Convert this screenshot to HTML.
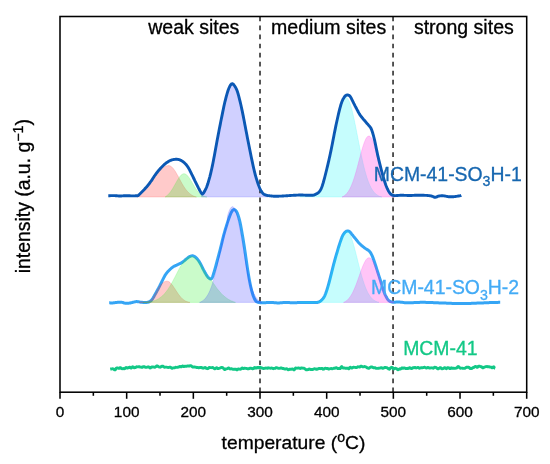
<!DOCTYPE html>
<html><head><meta charset="utf-8"><title>TPD profiles</title>
<style>html,body{margin:0;padding:0;background:#fff;}body{width:550px;height:464px;overflow:hidden}</style>
</head><body>
<svg width="550" height="464" viewBox="0 0 550 464" style="display:block">
<rect x="0" y="0" width="550" height="464" fill="#ffffff"/>
<g>
<path d="M137.0,197.0 L137.5,196.9 L138.0,196.8 L138.5,196.4 L139.0,196.0 L139.5,195.5 L140.0,195.0 L140.5,194.5 L141.0,194.0 L141.5,193.5 L142.0,193.0 L142.5,192.5 L143.0,192.0 L143.5,191.5 L144.0,191.0 L144.5,190.5 L145.0,189.9 L145.5,189.4 L146.0,188.8 L146.5,188.2 L147.0,187.7 L147.5,187.1 L148.0,186.5 L148.5,185.8 L149.0,185.2 L149.5,184.5 L150.0,183.9 L150.5,183.2 L151.0,182.5 L151.5,181.8 L152.0,181.1 L152.5,180.3 L153.0,179.5 L153.5,178.7 L154.0,178.0 L154.5,177.3 L155.0,176.6 L155.5,176.0 L156.0,175.4 L156.5,174.7 L157.0,174.1 L157.5,173.5 L158.0,172.9 L158.5,172.3 L159.0,171.7 L159.5,171.2 L160.0,170.6 L160.5,170.1 L161.0,169.6 L161.5,169.1 L162.0,168.7 L162.5,168.3 L163.0,167.9 L163.5,167.5 L164.0,167.2 L164.5,166.8 L165.0,166.6 L165.5,166.3 L166.0,166.1 L166.5,165.9 L167.0,165.8 L167.5,165.7 L168.0,165.6 L168.5,165.6 L169.0,165.6 L169.5,165.7 L170.0,165.8 L170.5,166.1 L171.0,166.4 L171.5,166.7 L172.0,167.2 L172.5,167.7 L173.0,168.2 L173.5,168.8 L174.0,169.5 L174.5,170.2 L175.0,170.9 L175.5,171.7 L176.0,172.6 L176.5,173.4 L177.0,174.3 L177.5,175.2 L178.0,176.1 L178.5,177.0 L179.0,178.0 L179.5,178.9 L180.0,179.8 L180.5,180.8 L181.0,181.7 L181.5,182.6 L182.0,183.5 L182.5,184.3 L183.0,185.2 L183.5,186.0 L184.0,186.8 L184.5,187.6 L185.0,188.3 L185.5,189.0 L186.0,189.7 L186.5,190.3 L187.0,190.9 L187.5,191.5 L188.0,192.0 L188.5,192.5 L189.0,193.0 L189.5,193.4 L190.0,193.9 L190.5,194.2 L191.0,194.6 L191.5,194.9 L192.0,195.2 L192.5,195.5 L193.0,195.8 L193.5,196.0 L194.0,196.2 L194.5,196.4 L195.0,196.6 L195.5,196.8 L196.0,196.9 L196.5,197.0 L196.5,197.0 L137.0,197.0 Z" fill="rgba(255,35,35,0.245)" stroke="rgba(255,35,35,0.245)" stroke-width="0.7"/>
<path d="M165.0,197.0 L165.5,196.7 L166.0,196.3 L166.5,196.0 L167.0,195.6 L167.5,195.2 L168.0,194.7 L168.5,194.2 L169.0,193.6 L169.5,193.0 L170.0,192.4 L170.5,191.8 L171.0,191.1 L171.5,190.3 L172.0,189.6 L172.5,188.8 L173.0,187.9 L173.5,187.1 L174.0,186.2 L174.5,185.3 L175.0,184.5 L175.5,183.6 L176.0,182.7 L176.5,181.8 L177.0,180.9 L177.5,180.0 L178.0,179.2 L178.5,178.4 L179.0,177.7 L179.5,177.0 L180.0,176.3 L180.5,175.7 L181.0,175.2 L181.5,174.8 L182.0,174.4 L182.5,174.1 L183.0,173.9 L183.5,173.7 L184.0,173.7 L184.5,173.7 L185.0,173.9 L185.5,174.1 L186.0,174.4 L186.5,174.7 L187.0,175.2 L187.5,175.7 L188.0,176.3 L188.5,176.9 L189.0,177.6 L189.5,178.3 L190.0,179.1 L190.5,179.9 L191.0,180.7 L191.5,181.6 L192.0,182.4 L192.5,183.3 L193.0,184.1 L193.5,185.0 L194.0,185.8 L194.5,186.7 L195.0,187.5 L195.5,188.2 L196.0,189.0 L196.5,189.7 L197.0,190.4 L197.5,191.0 L198.0,191.6 L198.5,192.2 L199.0,192.7 L199.5,193.2 L200.0,193.7 L200.5,194.1 L201.0,194.5 L201.5,194.9 L202.0,195.2 L202.5,195.5 L203.0,195.7 L203.5,196.0 L204.0,196.2 L204.5,196.4 L205.0,196.5 L205.5,196.7 L206.0,196.8 L206.5,196.9 L207.0,197.0 L207.0,197.0 L165.0,197.0 Z" fill="rgba(30,240,30,0.235)" stroke="rgba(30,240,30,0.235)" stroke-width="0.7"/>
<path d="M201.5,197.0 L202.0,195.0 L202.5,195.1 L203.0,194.8 L203.5,194.2 L204.0,193.4 L204.5,192.5 L205.0,191.6 L205.5,190.6 L206.0,189.6 L206.5,188.5 L207.0,187.2 L207.5,185.8 L208.0,184.3 L208.5,182.6 L209.0,180.9 L209.5,179.1 L210.0,177.2 L210.5,175.2 L211.0,173.1 L211.5,171.0 L212.0,168.7 L212.5,166.4 L213.0,163.9 L213.5,161.4 L214.0,158.7 L214.5,156.0 L215.0,153.3 L215.5,150.6 L216.0,147.9 L216.5,145.1 L217.0,142.4 L217.5,139.7 L218.0,137.1 L218.5,134.5 L219.0,131.9 L219.5,129.3 L220.0,126.8 L220.5,124.3 L221.0,121.7 L221.5,119.2 L222.0,116.8 L222.5,114.3 L223.0,111.9 L223.5,109.5 L224.0,107.1 L224.5,104.9 L225.0,102.7 L225.5,100.7 L226.0,98.8 L226.5,96.9 L227.0,95.2 L227.5,93.5 L228.0,91.9 L228.5,90.5 L229.0,89.2 L229.5,88.1 L230.0,87.2 L230.5,86.3 L231.0,85.7 L231.5,85.2 L232.0,85.0 L232.5,85.0 L233.0,85.2 L233.5,85.7 L234.0,86.3 L234.5,86.9 L235.0,87.7 L235.5,88.5 L236.0,89.4 L236.5,90.4 L237.0,91.7 L237.5,93.1 L238.0,94.7 L238.5,96.5 L239.0,98.3 L239.5,100.3 L240.0,102.3 L240.5,104.4 L241.0,106.6 L241.5,108.9 L242.0,111.2 L242.5,113.6 L243.0,116.1 L243.5,118.6 L244.0,121.2 L244.5,123.8 L245.0,126.4 L245.5,129.0 L246.0,131.6 L246.5,134.2 L247.0,136.8 L247.5,139.4 L248.0,142.0 L248.5,144.5 L249.0,147.0 L249.5,149.5 L250.0,152.0 L250.5,154.5 L251.0,156.9 L251.5,159.3 L252.0,161.7 L252.5,164.1 L253.0,166.4 L253.5,168.7 L254.0,170.9 L254.5,172.9 L255.0,174.9 L255.5,176.7 L256.0,178.5 L256.5,180.2 L257.0,181.7 L257.5,183.3 L258.0,184.7 L258.5,186.1 L259.0,187.5 L259.5,188.8 L260.0,189.9 L260.5,191.0 L261.0,191.9 L261.5,192.7 L262.0,193.4 L262.5,194.0 L263.0,194.6 L263.5,195.1 L264.0,195.5 L264.5,195.8 L265.0,196.0 L265.5,196.2 L266.0,196.3 L266.5,196.5 L267.0,196.6 L267.5,196.7 L268.0,197.0 L268.0,197.0 L201.5,197.0 Z" fill="rgba(40,40,255,0.22)" stroke="rgba(40,40,255,0.22)" stroke-width="0.7"/>
<path d="M300.0,197.0 L300.5,196.2 L301.0,196.2 L301.5,196.2 L302.0,196.2 L302.5,196.2 L303.0,196.2 L303.5,196.3 L304.0,196.3 L304.5,196.3 L305.0,196.4 L305.5,196.4 L306.0,196.4 L306.5,196.4 L307.0,196.5 L307.5,196.5 L308.0,196.5 L308.5,196.5 L309.0,196.5 L309.5,196.5 L310.0,196.5 L310.5,196.5 L311.0,196.5 L311.5,196.5 L312.0,196.5 L312.5,196.4 L313.0,196.4 L313.5,196.3 L314.0,196.2 L314.5,196.0 L315.0,195.8 L315.5,195.5 L316.0,195.3 L316.5,195.0 L317.0,194.7 L317.5,194.4 L318.0,194.1 L318.5,193.7 L319.0,193.2 L319.5,192.6 L320.0,191.9 L320.5,191.1 L321.0,190.2 L321.5,189.0 L322.0,187.7 L322.5,186.3 L323.0,184.7 L323.5,183.0 L324.0,181.2 L324.5,179.3 L325.0,177.4 L325.5,175.4 L326.0,173.4 L326.5,171.4 L327.0,169.3 L327.5,167.3 L328.0,165.2 L328.5,163.0 L329.0,160.9 L329.5,158.6 L330.0,156.4 L330.5,154.0 L331.0,151.6 L331.5,149.2 L332.0,146.7 L332.5,144.1 L333.0,141.5 L333.5,138.9 L334.0,136.3 L334.5,133.8 L335.0,131.3 L335.5,128.8 L336.0,126.4 L336.5,124.0 L337.0,121.8 L337.5,119.5 L338.0,117.3 L338.5,115.2 L339.0,113.1 L339.5,111.1 L340.0,109.2 L340.5,107.3 L341.0,105.6 L341.5,104.1 L342.0,102.7 L342.5,101.6 L343.0,100.5 L343.5,99.6 L344.0,98.8 L344.5,98.0 L345.0,97.6 L345.5,97.5 L346.0,97.5 L346.5,97.6 L347.0,97.9 L347.5,98.4 L348.0,99.1 L348.5,99.9 L349.0,100.9 L349.5,102.1 L350.0,103.4 L350.5,104.9 L351.0,106.5 L351.5,108.2 L352.0,110.1 L352.5,112.1 L353.0,114.1 L353.5,116.3 L354.0,118.6 L354.5,120.9 L355.0,123.4 L355.5,125.8 L356.0,128.3 L356.5,130.9 L357.0,133.4 L357.5,136.0 L358.0,138.6 L358.5,141.2 L359.0,143.7 L359.5,146.3 L360.0,148.8 L360.5,151.3 L361.0,153.7 L361.5,156.1 L362.0,158.4 L362.5,160.6 L363.0,162.8 L363.5,165.0 L364.0,167.0 L364.5,169.0 L365.0,170.9 L365.5,172.7 L366.0,174.4 L366.5,176.1 L367.0,177.7 L367.5,179.2 L368.0,180.6 L368.5,181.9 L369.0,183.2 L369.5,184.4 L370.0,185.5 L370.5,186.6 L371.0,187.5 L371.5,188.4 L372.0,189.3 L372.5,190.1 L373.0,190.8 L373.5,191.5 L374.0,192.1 L374.5,192.7 L375.0,193.2 L375.5,193.7 L376.0,194.1 L376.5,194.5 L377.0,194.9 L377.5,195.2 L378.0,195.5 L378.5,195.8 L379.0,196.0 L379.5,196.3 L380.0,196.5 L380.5,196.6 L381.0,196.8 L381.5,196.9 L382.0,197.0 L382.0,197.0 L300.0,197.0 Z" fill="rgba(0,245,245,0.225)" stroke="rgba(0,245,245,0.225)" stroke-width="0.7"/>
<path d="M342.0,197.0 L342.5,196.8 L343.0,196.6 L343.5,196.3 L344.0,196.0 L344.5,195.6 L345.0,195.2 L345.5,194.8 L346.0,194.3 L346.5,193.8 L347.0,193.2 L347.5,192.5 L348.0,191.9 L348.5,191.1 L349.0,190.3 L349.5,189.4 L350.0,188.5 L350.5,187.5 L351.0,186.4 L351.5,185.2 L352.0,184.0 L352.5,182.7 L353.0,181.4 L353.5,179.9 L354.0,178.4 L354.5,176.9 L355.0,175.2 L355.5,173.6 L356.0,171.8 L356.5,170.0 L357.0,168.2 L357.5,166.3 L358.0,164.5 L358.5,162.5 L359.0,160.6 L359.5,158.7 L360.0,156.8 L360.5,154.9 L361.0,153.1 L361.5,151.3 L362.0,149.5 L362.5,147.8 L363.0,146.2 L363.5,144.7 L364.0,143.2 L364.5,141.9 L365.0,140.7 L365.5,139.6 L366.0,138.6 L366.5,137.8 L367.0,137.1 L367.5,136.6 L368.0,136.3 L368.5,136.1 L369.0,136.0 L369.5,136.1 L370.0,136.4 L370.5,136.9 L371.0,137.5 L371.5,138.3 L372.0,139.2 L372.5,140.3 L373.0,141.6 L373.5,142.9 L374.0,144.4 L374.5,146.0 L375.0,147.7 L375.5,149.4 L376.0,151.3 L376.5,153.1 L377.0,155.1 L377.5,157.0 L378.0,159.0 L378.5,161.0 L379.0,163.0 L379.5,165.0 L380.0,167.0 L380.5,168.9 L381.0,170.8 L381.5,172.6 L382.0,174.4 L382.5,176.1 L383.0,177.8 L383.5,179.4 L384.0,180.9 L384.5,182.3 L385.0,183.8 L385.5,185.3 L386.0,186.7 L386.5,188.0 L387.0,189.2 L387.5,190.3 L388.0,191.3 L388.5,192.2 L389.0,193.0 L389.5,193.8 L390.0,194.5 L390.5,195.1 L391.0,195.6 L391.5,195.9 L392.0,196.2 L392.5,196.4 L393.0,196.5 L393.5,196.6 L394.0,196.7 L394.5,196.9 L395.0,197.0 L395.0,197.0 L342.0,197.0 Z" fill="rgba(255,30,225,0.26)" stroke="rgba(255,30,225,0.26)" stroke-width="0.7"/>
</g>
<g stroke="#2e2e2e" stroke-width="1.6" stroke-dasharray="4.7 4.35" fill="none">
<line x1="260.01" y1="16.5" x2="260.01" y2="392.2"/>
<line x1="393.05" y1="16.5" x2="393.05" y2="392.2"/>
</g>
<g fill="none" stroke-linejoin="round" stroke-linecap="butt">
<path d="M110.2,369.1 L110.7,369.0 L111.2,369.0 L111.7,368.9 L112.2,368.8 L112.7,368.8 L113.2,368.9 L113.7,369.1 L114.2,369.6 L114.7,369.9 L115.2,369.8 L115.7,369.1 L116.2,368.3 L116.7,368.0 L117.2,368.0 L117.7,368.0 L118.2,368.1 L118.7,368.4 L119.2,368.4 L119.7,367.9 L120.2,367.6 L120.7,367.7 L121.2,368.2 L121.7,368.7 L122.2,368.8 L122.7,368.7 L123.2,368.5 L123.7,368.6 L124.2,368.8 L124.7,368.7 L125.2,368.3 L125.7,367.7 L126.2,367.5 L126.7,367.7 L127.2,368.0 L127.7,368.0 L128.2,367.7 L128.7,367.5 L129.2,367.4 L129.7,367.2 L130.2,367.4 L130.7,367.9 L131.2,368.1 L131.7,367.7 L132.2,367.1 L132.7,366.8 L133.2,366.9 L133.7,367.4 L134.2,367.7 L134.7,367.7 L135.2,367.6 L135.7,367.4 L136.2,367.1 L136.7,366.8 L137.2,366.8 L137.7,366.9 L138.2,366.8 L138.7,366.7 L139.2,366.7 L139.7,366.9 L140.2,367.1 L140.7,367.1 L141.2,367.1 L141.7,367.3 L142.2,367.4 L142.7,367.1 L143.2,366.7 L143.7,366.6 L144.2,366.7 L144.7,366.9 L145.2,367.2 L145.7,367.4 L146.2,367.4 L146.7,367.3 L147.2,367.2 L147.7,366.9 L148.2,366.8 L148.7,366.9 L149.2,367.3 L149.7,367.7 L150.2,368.0 L150.7,367.8 L151.2,367.3 L151.7,367.0 L152.2,367.0 L152.7,367.0 L153.2,367.0 L153.7,367.1 L154.2,367.2 L154.7,367.3 L155.2,367.1 L155.7,366.8 L156.2,366.4 L156.7,366.0 L157.2,365.9 L157.7,366.1 L158.2,366.5 L158.7,366.8 L159.2,367.0 L159.7,367.1 L160.2,367.2 L160.7,367.0 L161.2,366.6 L161.7,366.3 L162.2,366.1 L162.7,366.2 L163.2,366.4 L163.7,366.8 L164.2,367.2 L164.7,367.3 L165.2,367.2 L165.7,367.1 L166.2,367.1 L166.7,367.2 L167.2,367.3 L167.7,367.4 L168.2,367.5 L168.7,367.4 L169.2,367.3 L169.7,367.1 L170.2,367.1 L170.7,367.3 L171.2,367.8 L171.7,368.3 L172.2,368.3 L172.7,368.0 L173.2,367.8 L173.7,367.9 L174.2,367.9 L174.7,367.8 L175.2,367.5 L175.7,367.2 L176.2,367.3 L176.7,367.4 L177.2,367.3 L177.7,367.2 L178.2,367.2 L178.7,367.1 L179.2,366.7 L179.7,366.4 L180.2,366.5 L180.7,366.8 L181.2,366.9 L181.7,366.6 L182.2,366.1 L182.7,366.0 L183.2,366.4 L183.7,366.6 L184.2,366.5 L184.7,366.2 L185.2,366.2 L185.7,366.3 L186.2,366.4 L186.7,366.2 L187.2,366.0 L187.7,366.0 L188.2,365.9 L188.7,365.9 L189.2,366.1 L189.7,366.0 L190.2,365.8 L190.7,365.6 L191.2,365.8 L191.7,366.3 L192.2,366.8 L192.7,367.1 L193.2,367.1 L193.7,367.0 L194.2,367.0 L194.7,367.0 L195.2,367.1 L195.7,367.2 L196.2,367.4 L196.7,367.5 L197.2,367.4 L197.7,367.4 L198.2,367.7 L198.7,367.9 L199.2,367.7 L199.7,367.5 L200.2,367.5 L200.7,367.5 L201.2,367.4 L201.7,367.6 L202.2,367.9 L202.7,368.1 L203.2,368.2 L203.7,368.1 L204.2,367.8 L204.7,367.6 L205.2,367.5 L205.7,367.8 L206.2,368.3 L206.7,368.5 L207.2,368.7 L207.7,368.6 L208.2,368.4 L208.7,367.9 L209.2,367.5 L209.7,367.5 L210.2,367.6 L210.7,367.6 L211.2,367.6 L211.7,367.7 L212.2,367.6 L212.7,367.5 L213.2,367.8 L213.7,368.2 L214.2,368.5 L214.7,368.8 L215.2,368.8 L215.7,368.3 L216.2,367.8 L216.7,367.7 L217.2,368.1 L217.7,368.5 L218.2,368.6 L218.7,368.5 L219.2,368.3 L219.7,368.2 L220.2,368.0 L220.7,367.7 L221.2,367.4 L221.7,367.4 L222.2,367.5 L222.7,367.7 L223.2,368.0 L223.7,368.6 L224.2,369.2 L224.7,369.6 L225.2,369.4 L225.7,369.0 L226.2,368.9 L226.7,368.8 L227.2,368.7 L227.7,368.5 L228.2,368.1 L228.7,367.9 L229.2,368.3 L229.7,368.8 L230.2,369.0 L230.7,368.8 L231.2,368.7 L231.7,368.9 L232.2,369.0 L232.7,369.2 L233.2,369.4 L233.7,369.3 L234.2,369.2 L234.7,369.2 L235.2,369.2 L235.7,369.2 L236.2,369.4 L236.7,369.8 L237.2,369.8 L237.7,369.4 L238.2,369.0 L238.7,369.0 L239.2,369.1 L239.7,369.2 L240.2,369.3 L240.7,369.2 L241.2,368.8 L241.7,368.2 L242.2,367.9 L242.7,368.3 L243.2,368.6 L243.7,368.5 L244.2,368.2 L244.7,368.2 L245.2,368.4 L245.7,368.4 L246.2,368.4 L246.7,368.5 L247.2,368.7 L247.7,368.7 L248.2,368.7 L248.7,368.8 L249.2,368.7 L249.7,368.3 L250.2,368.1 L250.7,368.1 L251.2,368.3 L251.7,368.5 L252.2,368.6 L252.7,368.8 L253.2,368.7 L253.7,368.4 L254.2,367.8 L254.7,367.5 L255.2,367.7 L255.7,368.1 L256.2,368.1 L256.7,367.9 L257.2,367.6 L257.7,367.4 L258.2,367.6 L258.7,367.8 L259.2,367.7 L259.7,367.3 L260.2,367.2 L260.7,367.5 L261.2,367.9 L261.7,368.0 L262.2,368.0 L262.7,368.3 L263.2,368.5 L263.7,368.5 L264.2,368.4 L264.7,368.4 L265.2,368.2 L265.7,368.0 L266.2,368.0 L266.7,368.2 L267.2,368.3 L267.7,368.1 L268.2,367.8 L268.7,367.9 L269.2,368.1 L269.7,368.1 L270.2,368.2 L270.7,368.2 L271.2,368.1 L271.7,368.0 L272.2,368.2 L272.7,368.5 L273.2,368.7 L273.7,368.5 L274.2,368.4 L274.7,368.4 L275.2,368.3 L275.7,367.9 L276.2,367.7 L276.7,367.7 L277.2,367.8 L277.7,368.0 L278.2,368.3 L278.7,368.4 L279.2,368.4 L279.7,368.3 L280.2,368.1 L280.7,368.0 L281.2,367.9 L281.7,368.1 L282.2,368.4 L282.7,368.5 L283.2,368.4 L283.7,368.6 L284.2,368.8 L284.7,369.0 L285.2,369.1 L285.7,369.0 L286.2,368.8 L286.7,368.7 L287.2,369.0 L287.7,369.5 L288.2,369.8 L288.7,369.7 L289.2,369.4 L289.7,369.2 L290.2,369.2 L290.7,369.3 L291.2,369.3 L291.7,369.2 L292.2,368.9 L292.7,368.9 L293.2,369.3 L293.7,369.9 L294.2,369.9 L294.7,369.2 L295.2,368.4 L295.7,368.0 L296.2,368.1 L296.7,368.2 L297.2,368.2 L297.7,368.1 L298.2,368.0 L298.7,368.0 L299.2,368.1 L299.7,368.3 L300.2,368.5 L300.7,368.4 L301.2,368.0 L301.7,367.9 L302.2,368.1 L302.7,368.2 L303.2,368.1 L303.7,368.2 L304.2,368.4 L304.7,368.7 L305.2,369.1 L305.7,369.4 L306.2,369.8 L306.7,369.8 L307.2,369.8 L307.7,369.7 L308.2,369.6 L308.7,369.2 L309.2,369.0 L309.7,369.1 L310.2,369.4 L310.7,369.5 L311.2,369.5 L311.7,369.4 L312.2,369.5 L312.7,369.5 L313.2,369.3 L313.7,369.0 L314.2,368.8 L314.7,368.8 L315.2,368.9 L315.7,369.0 L316.2,369.3 L316.7,369.4 L317.2,369.1 L317.7,368.9 L318.2,368.8 L318.7,368.6 L319.2,368.4 L319.7,368.4 L320.2,368.6 L320.7,368.7 L321.2,368.6 L321.7,368.4 L322.2,368.5 L322.7,368.9 L323.2,369.2 L323.7,369.1 L324.2,368.9 L324.7,368.6 L325.2,368.3 L325.7,368.3 L326.2,368.4 L326.7,368.5 L327.2,368.4 L327.7,368.5 L328.2,368.9 L328.7,369.1 L329.2,368.9 L329.7,368.8 L330.2,368.7 L330.7,368.6 L331.2,368.5 L331.7,368.6 L332.2,368.8 L332.7,368.7 L333.2,368.5 L333.7,368.3 L334.2,368.3 L334.7,368.3 L335.2,368.1 L335.7,367.8 L336.2,367.7 L336.7,367.9 L337.2,368.3 L337.7,368.6 L338.2,368.6 L338.7,368.4 L339.2,368.3 L339.7,368.4 L340.2,368.6 L340.7,368.0 L341.2,367.0 L341.7,366.6 L342.2,367.1 L342.7,367.8 L343.2,368.1 L343.7,368.1 L344.2,368.0 L344.7,368.0 L345.2,368.2 L345.7,368.4 L346.2,368.4 L346.7,368.2 L347.2,368.1 L347.7,368.1 L348.2,368.4 L348.7,368.8 L349.2,368.6 L349.7,367.8 L350.2,367.2 L350.7,367.3 L351.2,367.8 L351.7,368.1 L352.2,367.9 L352.7,367.4 L353.2,367.3 L353.7,367.3 L354.2,367.3 L354.7,367.4 L355.2,367.4 L355.7,367.5 L356.2,367.6 L356.7,367.5 L357.2,367.2 L357.7,366.8 L358.2,366.8 L358.7,366.9 L359.2,367.0 L359.7,367.0 L360.2,366.6 L360.7,366.2 L361.2,366.2 L361.7,366.4 L362.2,366.6 L362.7,366.8 L363.2,366.9 L363.7,366.8 L364.2,366.6 L364.7,366.5 L365.2,366.7 L365.7,366.8 L366.2,367.0 L366.7,367.5 L367.2,367.9 L367.7,368.0 L368.2,368.2 L368.7,368.4 L369.2,368.1 L369.7,367.5 L370.2,367.3 L370.7,367.1 L371.2,366.9 L371.7,366.9 L372.2,367.1 L372.7,367.4 L373.2,367.6 L373.7,367.8 L374.2,367.8 L374.7,367.7 L375.2,367.7 L375.7,368.1 L376.2,368.3 L376.7,368.4 L377.2,368.4 L377.7,368.3 L378.2,368.2 L378.7,368.2 L379.2,368.2 L379.7,368.1 L380.2,368.0 L380.7,367.8 L381.2,367.6 L381.7,367.8 L382.2,368.2 L382.7,368.3 L383.2,368.1 L383.7,368.0 L384.2,367.8 L384.7,367.5 L385.2,367.4 L385.7,367.5 L386.2,367.6 L386.7,367.7 L387.2,367.9 L387.7,368.2 L388.2,368.6 L388.7,369.0 L389.2,369.2 L389.7,368.9 L390.2,368.4 L390.7,367.8 L391.2,367.5 L391.7,367.3 L392.2,367.4 L392.7,367.9 L393.2,368.7 L393.7,369.0 L394.2,368.8 L394.7,368.4 L395.2,368.3 L395.7,368.3 L396.2,368.5 L396.7,368.8 L397.2,369.3 L397.7,369.7 L398.2,369.7 L398.7,369.5 L399.2,369.0 L399.7,368.8 L400.2,369.0 L400.7,369.0 L401.2,368.5 L401.7,368.0 L402.2,367.9 L402.7,368.1 L403.2,368.3 L403.7,368.2 L404.2,367.9 L404.7,367.9 L405.2,368.2 L405.7,368.6 L406.2,368.6 L406.7,368.4 L407.2,368.3 L407.7,368.5 L408.2,368.5 L408.7,368.3 L409.2,367.9 L409.7,367.7 L410.2,367.8 L410.7,368.2 L411.2,368.5 L411.7,368.6 L412.2,368.2 L412.7,367.7 L413.2,367.7 L413.7,367.9 L414.2,367.7 L414.7,367.4 L415.2,367.4 L415.7,367.8 L416.2,368.0 L416.7,367.8 L417.2,367.7 L417.7,367.5 L418.2,367.4 L418.7,367.8 L419.2,368.3 L419.7,368.2 L420.2,367.9 L420.7,367.8 L421.2,367.8 L421.7,367.7 L422.2,367.7 L422.7,367.7 L423.2,367.6 L423.7,367.5 L424.2,367.3 L424.7,367.3 L425.2,367.5 L425.7,367.8 L426.2,368.0 L426.7,368.0 L427.2,367.8 L427.7,367.5 L428.2,367.5 L428.7,367.8 L429.2,368.0 L429.7,368.0 L430.2,368.0 L430.7,367.9 L431.2,367.8 L431.7,367.9 L432.2,367.9 L432.7,368.1 L433.2,368.2 L433.7,367.9 L434.2,367.6 L434.7,367.3 L435.2,367.3 L435.7,367.4 L436.2,367.6 L436.7,368.0 L437.2,368.5 L437.7,368.8 L438.2,368.8 L438.7,368.6 L439.2,368.3 L439.7,367.9 L440.2,367.6 L440.7,367.7 L441.2,368.3 L441.7,368.8 L442.2,368.8 L442.7,368.7 L443.2,368.6 L443.7,368.3 L444.2,367.8 L444.7,367.6 L445.2,367.8 L445.7,368.3 L446.2,368.7 L446.7,368.4 L447.2,367.9 L447.7,367.7 L448.2,367.7 L448.7,367.8 L449.2,368.1 L449.7,368.5 L450.2,368.6 L450.7,368.2 L451.2,367.8 L451.7,367.9 L452.2,368.3 L452.7,368.4 L453.2,368.1 L453.7,368.1 L454.2,368.3 L454.7,368.4 L455.2,368.3 L455.7,368.2 L456.2,368.1 L456.7,368.0 L457.2,367.5 L457.7,366.8 L458.2,366.5 L458.7,366.7 L459.2,367.2 L459.7,367.8 L460.2,368.2 L460.7,368.2 L461.2,368.1 L461.7,368.1 L462.2,368.2 L462.7,368.2 L463.2,368.3 L463.7,368.4 L464.2,368.4 L464.7,368.3 L465.2,368.1 L465.7,367.8 L466.2,367.4 L466.7,367.2 L467.2,367.2 L467.7,367.3 L468.2,367.3 L468.7,367.3 L469.2,367.6 L469.7,368.1 L470.2,368.5 L470.7,368.5 L471.2,368.5 L471.7,368.6 L472.2,368.3 L472.7,367.8 L473.2,367.5 L473.7,367.5 L474.2,367.3 L474.7,366.8 L475.2,366.5 L475.7,366.5 L476.2,366.7 L476.7,367.1 L477.2,367.4 L477.7,367.2 L478.2,366.5 L478.7,366.1 L479.2,366.1 L479.7,366.2 L480.2,366.5 L480.7,366.7 L481.2,366.7 L481.7,366.9 L482.2,367.4 L482.7,367.8 L483.2,367.8 L483.7,367.5 L484.2,367.2 L484.7,367.0 L485.2,366.8 L485.7,366.8 L486.2,366.7 L486.7,366.5 L487.2,366.5 L487.7,366.8 L488.2,366.8 L488.7,366.7 L489.2,366.7 L489.7,367.0 L490.2,367.1 L490.7,367.1 L491.2,367.2 L491.7,367.6 L492.2,367.8 L492.7,367.5 L493.2,366.9 L493.7,366.8 L494.2,367.4 L494.7,368.1 L495.2,368.3" stroke="#12c886" stroke-width="2.9"/>
<path d="M109.2,302.8 L109.7,302.8 L110.2,302.9 L110.7,302.9 L111.2,302.9 L111.7,302.9 L112.2,302.9 L112.7,302.9 L113.2,302.9 L113.7,302.8 L114.2,302.8 L114.7,302.7 L115.2,302.6 L115.7,302.6 L116.2,302.5 L116.7,302.4 L117.2,302.4 L117.7,302.3 L118.2,302.3 L118.7,302.3 L119.2,302.2 L119.7,302.2 L120.2,302.2 L120.7,302.2 L121.2,302.2 L121.7,302.3 L122.2,302.4 L122.7,302.5 L123.2,302.7 L123.7,302.8 L124.2,303.0 L124.7,303.1 L125.2,303.2 L125.7,303.2 L126.2,303.2 L126.7,303.3 L127.2,303.3 L127.7,303.2 L128.2,303.2 L128.7,303.2 L129.2,303.1 L129.7,303.1 L130.2,303.0 L130.7,302.8 L131.2,302.7 L131.7,302.6 L132.2,302.5 L132.7,302.3 L133.2,302.2 L133.7,302.1 L134.2,302.0 L134.7,301.9 L135.2,301.8 L135.7,301.7 L136.2,301.6 L136.7,301.6 L137.2,301.6 L137.7,301.7 L138.2,301.7 L138.7,301.8 L139.2,301.9 L139.7,302.0 L140.2,302.1 L140.7,302.2 L141.2,302.2 L141.7,302.3 L142.2,302.3 L142.7,302.4 L143.2,302.4 L143.7,302.5 L144.2,302.5 L144.7,302.6 L145.2,302.6 L145.7,302.6 L146.2,302.5 L146.7,302.5 L147.2,302.4 L147.7,302.3 L148.2,302.2 L148.7,302.0 L149.2,301.8 L149.7,301.5 L150.2,301.2 L150.7,300.9 L151.2,300.5 L151.7,299.9 L152.2,299.3 L152.7,298.6 L153.2,297.7 L153.7,296.9 L154.2,296.0 L154.7,295.1 L155.2,294.2 L155.7,293.3 L156.2,292.4 L156.7,291.5 L157.2,290.6 L157.7,289.7 L158.2,288.8 L158.7,287.8 L159.2,286.8 L159.7,285.9 L160.2,284.9 L160.7,283.9 L161.2,282.9 L161.7,281.9 L162.2,280.9 L162.7,279.9 L163.2,278.9 L163.7,277.9 L164.2,276.9 L164.7,276.0 L165.2,275.1 L165.7,274.4 L166.2,273.6 L166.7,273.0 L167.2,272.4 L167.7,271.8 L168.2,271.2 L168.7,270.7 L169.2,270.2 L169.7,269.7 L170.2,269.2 L170.7,268.8 L171.2,268.3 L171.7,267.9 L172.2,267.5 L172.7,267.2 L173.2,266.8 L173.7,266.5 L174.2,266.2 L174.7,266.0 L175.2,265.8 L175.7,265.5 L176.2,265.3 L176.7,265.1 L177.2,264.8 L177.7,264.6 L178.2,264.4 L178.7,264.1 L179.2,263.9 L179.7,263.7 L180.2,263.5 L180.7,263.2 L181.2,263.0 L181.7,262.7 L182.2,262.4 L182.7,262.0 L183.2,261.6 L183.7,261.2 L184.2,260.8 L184.7,260.4 L185.2,259.9 L185.7,259.5 L186.2,259.1 L186.7,258.7 L187.2,258.3 L187.7,257.9 L188.2,257.5 L188.7,257.1 L189.2,256.8 L189.7,256.5 L190.2,256.3 L190.7,256.1 L191.2,256.0 L191.7,255.9 L192.2,255.8 L192.7,255.8 L193.2,255.9 L193.7,256.1 L194.2,256.3 L194.7,256.6 L195.2,257.0 L195.7,257.4 L196.2,257.9 L196.7,258.4 L197.2,258.9 L197.7,259.5 L198.2,260.1 L198.7,260.8 L199.2,261.6 L199.7,262.4 L200.2,263.3 L200.7,264.2 L201.2,265.2 L201.7,266.2 L202.2,267.2 L202.7,268.3 L203.2,269.2 L203.7,270.2 L204.2,271.1 L204.7,272.0 L205.2,272.9 L205.7,273.7 L206.2,274.6 L206.7,275.4 L207.2,276.2 L207.7,276.9 L208.2,277.5 L208.7,277.9 L209.2,278.3 L209.7,278.6 L210.2,278.9 L210.7,279.0 L211.2,278.9 L211.7,278.5 L212.2,277.7 L212.7,276.5 L213.2,274.9 L213.7,273.3 L214.2,271.6 L214.7,269.9 L215.2,268.1 L215.7,266.3 L216.2,264.5 L216.7,262.6 L217.2,260.7 L217.7,258.9 L218.2,257.0 L218.7,255.1 L219.2,253.2 L219.7,251.3 L220.2,249.4 L220.7,247.4 L221.2,245.4 L221.7,243.3 L222.2,241.2 L222.7,239.2 L223.2,237.2 L223.7,235.2 L224.2,233.4 L224.7,231.6 L225.2,229.8 L225.7,228.2 L226.2,226.6 L226.7,225.0 L227.2,223.4 L227.7,221.9 L228.2,220.4 L228.7,219.0 L229.2,217.6 L229.7,216.3 L230.2,215.0 L230.7,213.7 L231.2,212.6 L231.7,211.7 L232.2,210.9 L232.7,210.2 L233.2,209.8 L233.7,209.6 L234.2,209.6 L234.7,209.7 L235.2,210.0 L235.7,210.5 L236.2,211.1 L236.7,211.9 L237.2,212.9 L237.7,214.2 L238.2,215.6 L238.7,217.2 L239.2,219.0 L239.7,220.9 L240.2,223.1 L240.7,225.6 L241.2,228.2 L241.7,231.0 L242.2,233.9 L242.7,236.8 L243.2,239.8 L243.7,242.9 L244.2,246.1 L244.7,249.4 L245.2,252.7 L245.7,256.2 L246.2,259.7 L246.7,263.2 L247.2,266.6 L247.7,269.9 L248.2,273.1 L248.7,276.1 L249.2,278.9 L249.7,281.6 L250.2,284.1 L250.7,286.5 L251.2,288.7 L251.7,290.7 L252.2,292.5 L252.7,294.2 L253.2,295.7 L253.7,297.0 L254.2,298.2 L254.7,299.3 L255.2,300.2 L255.7,300.9 L256.2,301.4 L256.7,301.7 L257.2,302.0 L257.7,302.3 L258.2,302.4 L258.7,302.5 L259.2,302.6 L259.7,302.6 L260.2,302.7 L260.7,302.7 L261.2,302.8 L261.7,302.8 L262.2,302.8 L262.7,302.8 L263.2,302.8 L263.7,302.8 L264.2,302.8 L264.7,302.7 L265.2,302.7 L265.7,302.7 L266.2,302.6 L266.7,302.6 L267.2,302.5 L267.7,302.5 L268.2,302.5 L268.7,302.4 L269.2,302.4 L269.7,302.4 L270.2,302.4 L270.7,302.4 L271.2,302.4 L271.7,302.5 L272.2,302.5 L272.7,302.5 L273.2,302.6 L273.7,302.6 L274.2,302.7 L274.7,302.7 L275.2,302.8 L275.7,302.8 L276.2,302.8 L276.7,302.9 L277.2,302.9 L277.7,302.9 L278.2,302.9 L278.7,302.9 L279.2,302.9 L279.7,302.9 L280.2,302.8 L280.7,302.8 L281.2,302.8 L281.7,302.7 L282.2,302.7 L282.7,302.6 L283.2,302.6 L283.7,302.6 L284.2,302.6 L284.7,302.5 L285.2,302.5 L285.7,302.5 L286.2,302.5 L286.7,302.5 L287.2,302.5 L287.7,302.5 L288.2,302.6 L288.7,302.6 L289.2,302.6 L289.7,302.6 L290.2,302.7 L290.7,302.7 L291.2,302.7 L291.7,302.8 L292.2,302.8 L292.7,302.8 L293.2,302.8 L293.7,302.8 L294.2,302.8 L294.7,302.8 L295.2,302.8 L295.7,302.7 L296.2,302.7 L296.7,302.7 L297.2,302.6 L297.7,302.6 L298.2,302.6 L298.7,302.5 L299.2,302.5 L299.7,302.5 L300.2,302.4 L300.7,302.4 L301.2,302.4 L301.7,302.4 L302.2,302.4 L302.7,302.4 L303.2,302.4 L303.7,302.4 L304.2,302.4 L304.7,302.4 L305.2,302.4 L305.7,302.4 L306.2,302.4 L306.7,302.5 L307.2,302.5 L307.7,302.5 L308.2,302.5 L308.7,302.5 L309.2,302.5 L309.7,302.5 L310.2,302.5 L310.7,302.5 L311.2,302.5 L311.7,302.5 L312.2,302.5 L312.7,302.5 L313.2,302.6 L313.7,302.6 L314.2,302.6 L314.7,302.6 L315.2,302.6 L315.7,302.6 L316.2,302.6 L316.7,302.6 L317.2,302.5 L317.7,302.3 L318.2,302.2 L318.7,302.0 L319.2,301.8 L319.7,301.6 L320.2,301.3 L320.7,300.9 L321.2,300.5 L321.7,300.0 L322.2,299.5 L322.7,299.0 L323.2,298.3 L323.7,297.6 L324.2,296.8 L324.7,295.8 L325.2,294.7 L325.7,293.5 L326.2,292.1 L326.7,290.6 L327.2,289.0 L327.7,287.3 L328.2,285.6 L328.7,283.8 L329.2,282.0 L329.7,280.1 L330.2,278.2 L330.7,276.2 L331.2,274.2 L331.7,272.2 L332.2,270.2 L332.7,268.2 L333.2,266.2 L333.7,264.2 L334.2,262.3 L334.7,260.5 L335.2,258.7 L335.7,256.9 L336.2,255.2 L336.7,253.5 L337.2,251.8 L337.7,250.1 L338.2,248.4 L338.7,246.8 L339.2,245.2 L339.7,243.6 L340.2,242.1 L340.7,240.7 L341.2,239.3 L341.7,237.9 L342.2,236.7 L342.7,235.6 L343.2,234.7 L343.7,233.9 L344.2,233.3 L344.7,232.6 L345.2,232.1 L345.7,231.7 L346.2,231.4 L346.7,231.1 L347.2,231.0 L347.7,231.0 L348.2,231.0 L348.7,231.1 L349.2,231.3 L349.7,231.7 L350.2,232.2 L350.7,232.8 L351.2,233.4 L351.7,234.1 L352.2,234.7 L352.7,235.3 L353.2,235.9 L353.7,236.6 L354.2,237.2 L354.7,237.8 L355.2,238.4 L355.7,239.0 L356.2,239.6 L356.7,240.3 L357.2,240.9 L357.7,241.5 L358.2,242.1 L358.7,242.7 L359.2,243.2 L359.7,243.7 L360.2,244.2 L360.7,244.7 L361.2,245.1 L361.7,245.6 L362.2,246.0 L362.7,246.4 L363.2,246.8 L363.7,247.2 L364.2,247.6 L364.7,248.0 L365.2,248.3 L365.7,248.7 L366.2,249.0 L366.7,249.3 L367.2,249.6 L367.7,249.9 L368.2,250.2 L368.7,250.6 L369.2,251.0 L369.7,251.6 L370.2,252.2 L370.7,252.9 L371.2,253.8 L371.7,254.8 L372.2,255.9 L372.7,257.1 L373.2,258.4 L373.7,259.8 L374.2,261.3 L374.7,262.8 L375.2,264.3 L375.7,265.8 L376.2,267.3 L376.7,268.9 L377.2,270.4 L377.7,272.0 L378.2,273.5 L378.7,275.1 L379.2,276.6 L379.7,278.2 L380.2,279.8 L380.7,281.4 L381.2,283.0 L381.7,284.6 L382.2,286.3 L382.7,287.9 L383.2,289.5 L383.7,291.0 L384.2,292.4 L384.7,293.6 L385.2,294.8 L385.7,295.8 L386.2,296.8 L386.7,297.7 L387.2,298.6 L387.7,299.4 L388.2,300.0 L388.7,300.5 L389.2,300.9 L389.7,301.2 L390.2,301.5 L390.7,301.7 L391.2,301.9 L391.7,302.0 L392.2,302.1 L392.7,302.2 L393.2,302.2 L393.7,302.2 L394.2,302.2 L394.7,302.2 L395.2,302.2 L395.7,302.1 L396.2,302.1 L396.7,302.1 L397.2,302.1 L397.7,302.1 L398.2,302.1 L398.7,302.1 L399.2,302.1 L399.7,302.1 L400.2,302.1 L400.7,302.2 L401.2,302.2 L401.7,302.3 L402.2,302.3 L402.7,302.4 L403.2,302.5 L403.7,302.5 L404.2,302.6 L404.7,302.7 L405.2,302.7 L405.7,302.8 L406.2,302.8 L406.7,302.8 L407.2,302.8 L407.7,302.8 L408.2,302.8 L408.7,302.8 L409.2,302.8 L409.7,302.8 L410.2,302.7 L410.7,302.7 L411.2,302.7 L411.7,302.7 L412.2,302.7 L412.7,302.7 L413.2,302.7 L413.7,302.6 L414.2,302.6 L414.7,302.6 L415.2,302.6 L415.7,302.6 L416.2,302.6 L416.7,302.5 L417.2,302.5 L417.7,302.5 L418.2,302.4 L418.7,302.4 L419.2,302.4 L419.7,302.4 L420.2,302.3 L420.7,302.3 L421.2,302.3 L421.7,302.3 L422.2,302.3 L422.7,302.3 L423.2,302.3 L423.7,302.3 L424.2,302.3 L424.7,302.3 L425.2,302.3 L425.7,302.4 L426.2,302.4 L426.7,302.4 L427.2,302.4 L427.7,302.4 L428.2,302.5 L428.7,302.5 L429.2,302.5 L429.7,302.5 L430.2,302.5 L430.7,302.5 L431.2,302.6 L431.7,302.6 L432.2,302.6 L432.7,302.6 L433.2,302.6 L433.7,302.7 L434.2,302.7 L434.7,302.7 L435.2,302.7 L435.7,302.7 L436.2,302.8 L436.7,302.8 L437.2,302.8 L437.7,302.8 L438.2,302.8 L438.7,302.9 L439.2,302.9 L439.7,302.9 L440.2,302.9 L440.7,302.9 L441.2,302.9 L441.7,303.0 L442.2,303.0 L442.7,303.0 L443.2,303.0 L443.7,303.0 L444.2,303.1 L444.7,303.1 L445.2,303.1 L445.7,303.1 L446.2,303.1 L446.7,303.2 L447.2,303.2 L447.7,303.2 L448.2,303.2 L448.7,303.2 L449.2,303.3 L449.7,303.3 L450.2,303.3 L450.7,303.3 L451.2,303.3 L451.7,303.4 L452.2,303.4 L452.7,303.4 L453.2,303.4 L453.7,303.4 L454.2,303.5 L454.7,303.5 L455.2,303.5 L455.7,303.5 L456.2,303.5 L456.7,303.5 L457.2,303.5 L457.7,303.6 L458.2,303.6 L458.7,303.6 L459.2,303.6 L459.7,303.6 L460.2,303.6 L460.7,303.6 L461.2,303.6 L461.7,303.6 L462.2,303.6 L462.7,303.6 L463.2,303.6 L463.7,303.6 L464.2,303.6 L464.7,303.6 L465.2,303.6 L465.7,303.5 L466.2,303.5 L466.7,303.5 L467.2,303.5 L467.7,303.5 L468.2,303.5 L468.7,303.5 L469.2,303.4 L469.7,303.4 L470.2,303.4 L470.7,303.4 L471.2,303.4 L471.7,303.3 L472.2,303.3 L472.7,303.3 L473.2,303.3 L473.7,303.3 L474.2,303.2 L474.7,303.2 L475.2,303.2 L475.7,303.2 L476.2,303.2 L476.7,303.1 L477.2,303.1 L477.7,303.1 L478.2,303.1 L478.7,303.1 L479.2,303.0 L479.7,303.0 L480.2,303.0 L480.7,303.0 L481.2,303.0 L481.7,302.9 L482.2,302.9 L482.7,302.9 L483.2,302.9 L483.7,302.9 L484.2,302.8 L484.7,302.8 L485.2,302.8 L485.7,302.8 L486.2,302.8 L486.7,302.7 L487.2,302.7 L487.7,302.7 L488.2,302.7 L488.7,302.7 L489.2,302.6 L489.7,302.6 L490.2,302.6 L490.7,302.6 L491.2,302.6 L491.7,302.5 L492.2,302.5 L492.7,302.5 L493.2,302.5 L493.7,302.5 L494.2,302.5 L494.7,302.4 L495.2,302.4 L495.7,302.4 L496.2,302.4 L496.7,302.4 L497.2,302.4 L497.7,302.4 L498.2,302.4 L498.7,302.3 L499.2,302.3 L499.7,302.3 L500.2,302.3" stroke="#35a5f5" stroke-width="3.0"/>
<path d="M108.3,195.8 L108.8,195.8 L109.3,195.7 L109.8,195.7 L110.3,195.7 L110.8,195.6 L111.3,195.6 L111.8,195.6 L112.3,195.6 L112.8,195.6 L113.3,195.6 L113.8,195.6 L114.3,195.6 L114.8,195.6 L115.3,195.7 L115.8,195.7 L116.3,195.7 L116.8,195.8 L117.3,195.8 L117.8,195.9 L118.3,195.9 L118.8,196.0 L119.3,196.0 L119.8,196.0 L120.3,196.0 L120.8,196.0 L121.3,196.0 L121.8,195.9 L122.3,195.9 L122.8,195.9 L123.3,195.8 L123.8,195.8 L124.3,195.8 L124.8,195.7 L125.3,195.7 L125.8,195.7 L126.3,195.7 L126.8,195.7 L127.3,195.7 L127.8,195.7 L128.3,195.8 L128.8,195.8 L129.3,195.8 L129.8,195.8 L130.3,195.8 L130.8,195.9 L131.3,195.9 L131.8,195.9 L132.3,195.9 L132.8,195.9 L133.3,195.9 L133.8,195.9 L134.3,195.9 L134.8,195.9 L135.3,195.8 L135.8,195.8 L136.3,195.8 L136.8,195.8 L137.3,195.8 L137.8,195.7 L138.3,195.4 L138.8,195.0 L139.3,194.5 L139.8,194.0 L140.3,193.5 L140.8,193.0 L141.3,192.5 L141.8,192.0 L142.3,191.5 L142.8,191.0 L143.3,190.5 L143.8,190.0 L144.3,189.5 L144.8,188.9 L145.3,188.4 L145.8,187.8 L146.3,187.3 L146.8,186.7 L147.3,186.1 L147.8,185.5 L148.3,184.9 L148.8,184.3 L149.3,183.6 L149.8,182.9 L150.3,182.2 L150.8,181.5 L151.3,180.8 L151.8,180.1 L152.3,179.4 L152.8,178.6 L153.3,177.8 L153.8,177.0 L154.3,176.2 L154.8,175.5 L155.3,174.8 L155.8,174.1 L156.3,173.4 L156.8,172.8 L157.3,172.1 L157.8,171.5 L158.3,170.9 L158.8,170.3 L159.3,169.7 L159.8,169.1 L160.3,168.6 L160.8,168.0 L161.3,167.5 L161.8,167.0 L162.3,166.5 L162.8,166.0 L163.3,165.5 L163.8,165.0 L164.3,164.5 L164.8,164.1 L165.3,163.7 L165.8,163.3 L166.3,162.9 L166.8,162.5 L167.3,162.2 L167.8,161.9 L168.3,161.6 L168.8,161.3 L169.3,161.0 L169.8,160.7 L170.3,160.5 L170.8,160.3 L171.3,160.1 L171.8,159.9 L172.3,159.8 L172.8,159.7 L173.3,159.6 L173.8,159.5 L174.3,159.4 L174.8,159.4 L175.3,159.3 L175.8,159.3 L176.3,159.3 L176.8,159.3 L177.3,159.3 L177.8,159.4 L178.3,159.5 L178.8,159.6 L179.3,159.7 L179.8,159.9 L180.3,160.1 L180.8,160.3 L181.3,160.6 L181.8,160.8 L182.3,161.2 L182.8,161.5 L183.3,161.9 L183.8,162.3 L184.3,162.7 L184.8,163.2 L185.3,163.7 L185.8,164.2 L186.3,164.8 L186.8,165.5 L187.3,166.1 L187.8,166.9 L188.3,167.6 L188.8,168.5 L189.3,169.4 L189.8,170.3 L190.3,171.3 L190.8,172.3 L191.3,173.3 L191.8,174.4 L192.3,175.4 L192.8,176.4 L193.3,177.5 L193.8,178.5 L194.3,179.5 L194.8,180.6 L195.3,181.6 L195.8,182.6 L196.3,183.6 L196.8,184.6 L197.3,185.6 L197.8,186.6 L198.3,187.6 L198.8,188.5 L199.3,189.5 L199.8,190.5 L200.3,191.4 L200.8,192.3 L201.3,193.0 L201.8,193.6 L202.3,194.0 L202.8,193.8 L203.3,193.3 L203.8,192.6 L204.3,191.7 L204.8,190.8 L205.3,189.8 L205.8,188.8 L206.3,187.8 L206.8,186.6 L207.3,185.2 L207.8,183.8 L208.3,182.1 L208.8,180.4 L209.3,178.6 L209.8,176.8 L210.3,174.8 L210.8,172.8 L211.3,170.7 L211.8,168.5 L212.3,166.1 L212.8,163.7 L213.3,161.2 L213.8,158.6 L214.3,155.9 L214.8,153.2 L215.3,150.5 L215.8,147.8 L216.3,145.0 L216.8,142.3 L217.3,139.6 L217.8,136.9 L218.3,134.3 L218.8,131.7 L219.3,129.1 L219.8,126.6 L220.3,124.1 L220.8,121.5 L221.3,119.0 L221.8,116.6 L222.3,114.1 L222.8,111.6 L223.3,109.2 L223.8,106.8 L224.3,104.5 L224.8,102.3 L225.3,100.3 L225.8,98.3 L226.3,96.4 L226.8,94.7 L227.3,92.9 L227.8,91.3 L228.3,89.8 L228.8,88.5 L229.3,87.3 L229.8,86.3 L230.3,85.4 L230.8,84.7 L231.3,84.1 L231.8,83.8 L232.3,83.7 L232.8,83.9 L233.3,84.2 L233.8,84.8 L234.3,85.5 L234.8,86.2 L235.3,87.0 L235.8,87.8 L236.3,88.8 L236.8,89.9 L237.3,91.3 L237.8,92.8 L238.3,94.5 L238.8,96.4 L239.3,98.3 L239.8,100.3 L240.3,102.3 L240.8,104.5 L241.3,106.7 L241.8,109.1 L242.3,111.4 L242.8,113.9 L243.3,116.4 L243.8,119.0 L244.3,121.6 L244.8,124.2 L245.3,126.8 L245.8,129.4 L246.3,132.0 L246.8,134.6 L247.3,137.2 L247.8,139.8 L248.3,142.3 L248.8,144.8 L249.3,147.3 L249.8,149.8 L250.3,152.3 L250.8,154.7 L251.3,157.2 L251.8,159.6 L252.3,161.9 L252.8,164.3 L253.3,166.6 L253.8,168.8 L254.3,170.9 L254.8,172.9 L255.3,174.8 L255.8,176.6 L256.3,178.3 L256.8,179.9 L257.3,181.5 L257.8,183.0 L258.3,184.4 L258.8,185.8 L259.3,187.1 L259.8,188.3 L260.3,189.4 L260.8,190.4 L261.3,191.2 L261.8,191.9 L262.3,192.6 L262.8,193.2 L263.3,193.7 L263.8,194.2 L264.3,194.5 L264.8,194.7 L265.3,194.9 L265.8,195.1 L266.3,195.2 L266.8,195.4 L267.3,195.5 L267.8,195.6 L268.3,195.6 L268.8,195.7 L269.3,195.8 L269.8,195.8 L270.3,195.9 L270.8,195.9 L271.3,196.0 L271.8,196.0 L272.3,196.1 L272.8,196.1 L273.3,196.2 L273.8,196.2 L274.3,196.2 L274.8,196.2 L275.3,196.2 L275.8,196.2 L276.3,196.2 L276.8,196.2 L277.3,196.2 L277.8,196.2 L278.3,196.2 L278.8,196.2 L279.3,196.1 L279.8,196.1 L280.3,196.1 L280.8,196.1 L281.3,196.1 L281.8,196.1 L282.3,196.0 L282.8,196.0 L283.3,196.0 L283.8,195.9 L284.3,195.9 L284.8,195.9 L285.3,195.9 L285.8,195.8 L286.3,195.8 L286.8,195.7 L287.3,195.7 L287.8,195.7 L288.3,195.6 L288.8,195.6 L289.3,195.6 L289.8,195.5 L290.3,195.5 L290.8,195.5 L291.3,195.4 L291.8,195.4 L292.3,195.4 L292.8,195.4 L293.3,195.3 L293.8,195.3 L294.3,195.3 L294.8,195.2 L295.3,195.2 L295.8,195.2 L296.3,195.2 L296.8,195.1 L297.3,195.1 L297.8,195.1 L298.3,195.1 L298.8,195.0 L299.3,195.0 L299.8,195.0 L300.3,195.0 L300.8,195.0 L301.3,195.0 L301.8,195.0 L302.3,195.0 L302.8,195.0 L303.3,195.1 L303.8,195.1 L304.3,195.1 L304.8,195.1 L305.3,195.2 L305.8,195.2 L306.3,195.2 L306.8,195.3 L307.3,195.3 L307.8,195.3 L308.3,195.3 L308.8,195.3 L309.3,195.3 L309.8,195.3 L310.3,195.3 L310.8,195.3 L311.3,195.3 L311.8,195.3 L312.3,195.2 L312.8,195.2 L313.3,195.2 L313.8,195.1 L314.3,194.9 L314.8,194.7 L315.3,194.4 L315.8,194.2 L316.3,193.9 L316.8,193.7 L317.3,193.4 L317.8,193.0 L318.3,192.7 L318.8,192.2 L319.3,191.7 L319.8,191.0 L320.3,190.3 L320.8,189.4 L321.3,188.3 L321.8,187.1 L322.3,185.7 L322.8,184.1 L323.3,182.5 L323.8,180.7 L324.3,178.9 L324.8,177.0 L325.3,175.0 L325.8,173.0 L326.3,171.0 L326.8,169.0 L327.3,166.9 L327.8,164.8 L328.3,162.7 L328.8,160.6 L329.3,158.3 L329.8,156.1 L330.3,153.8 L330.8,151.4 L331.3,149.0 L331.8,146.5 L332.3,143.9 L332.8,141.4 L333.3,138.8 L333.8,136.2 L334.3,133.6 L334.8,131.1 L335.3,128.6 L335.8,126.1 L336.3,123.8 L336.8,121.5 L337.3,119.2 L337.8,117.0 L338.3,114.8 L338.8,112.7 L339.3,110.7 L339.8,108.7 L340.3,106.8 L340.8,105.0 L341.3,103.4 L341.8,102.0 L342.3,100.8 L342.8,99.7 L343.3,98.7 L343.8,97.9 L344.3,97.1 L344.8,96.4 L345.3,95.9 L345.8,95.5 L346.3,95.2 L346.8,95.0 L347.3,95.0 L347.8,95.0 L348.3,95.1 L348.8,95.3 L349.3,95.6 L349.8,96.0 L350.3,96.6 L350.8,97.4 L351.3,98.3 L351.8,99.3 L352.3,100.3 L352.8,101.3 L353.3,102.3 L353.8,103.4 L354.3,104.4 L354.8,105.4 L355.3,106.4 L355.8,107.3 L356.3,108.2 L356.8,109.2 L357.3,110.1 L357.8,111.0 L358.3,112.0 L358.8,112.9 L359.3,113.7 L359.8,114.6 L360.3,115.3 L360.8,116.0 L361.3,116.6 L361.8,117.3 L362.3,117.9 L362.8,118.5 L363.3,119.1 L363.8,119.7 L364.3,120.2 L364.8,120.8 L365.3,121.4 L365.8,122.0 L366.3,122.6 L366.8,123.2 L367.3,123.8 L367.8,124.3 L368.3,124.9 L368.8,125.5 L369.3,126.0 L369.8,126.6 L370.3,127.2 L370.8,128.0 L371.3,129.0 L371.8,130.3 L372.3,131.7 L372.8,133.3 L373.3,135.1 L373.8,137.0 L374.3,139.1 L374.8,141.2 L375.3,143.6 L375.8,146.0 L376.3,148.5 L376.8,150.9 L377.3,153.3 L377.8,155.6 L378.3,157.7 L378.8,159.8 L379.3,161.9 L379.8,163.9 L380.3,165.9 L380.8,167.9 L381.3,169.8 L381.8,171.7 L382.3,173.6 L382.8,175.4 L383.3,177.1 L383.8,178.8 L384.3,180.4 L384.8,182.0 L385.3,183.5 L385.8,185.0 L386.3,186.3 L386.8,187.5 L387.3,188.7 L387.8,189.7 L388.3,190.7 L388.8,191.5 L389.3,192.3 L389.8,193.0 L390.3,193.6 L390.8,194.2 L391.3,194.6 L391.8,194.9 L392.3,195.1 L392.8,195.3 L393.3,195.4 L393.8,195.5 L394.3,195.6 L394.8,195.6 L395.3,195.6 L395.8,195.6 L396.3,195.6 L396.8,195.5 L397.3,195.5 L397.8,195.5 L398.3,195.4 L398.8,195.4 L399.3,195.4 L399.8,195.3 L400.3,195.3 L400.8,195.3 L401.3,195.3 L401.8,195.3 L402.3,195.3 L402.8,195.3 L403.3,195.3 L403.8,195.3 L404.3,195.4 L404.8,195.4 L405.3,195.4 L405.8,195.4 L406.3,195.4 L406.8,195.4 L407.3,195.5 L407.8,195.5 L408.3,195.5 L408.8,195.5 L409.3,195.5 L409.8,195.5 L410.3,195.5 L410.8,195.5 L411.3,195.5 L411.8,195.5 L412.3,195.4 L412.8,195.4 L413.3,195.4 L413.8,195.4 L414.3,195.3 L414.8,195.3 L415.3,195.3 L415.8,195.3 L416.3,195.2 L416.8,195.2 L417.3,195.2 L417.8,195.2 L418.3,195.2 L418.8,195.2 L419.3,195.2 L419.8,195.2 L420.3,195.2 L420.8,195.2 L421.3,195.2 L421.8,195.2 L422.3,195.3 L422.8,195.3 L423.3,195.3 L423.8,195.3 L424.3,195.3 L424.8,195.4 L425.3,195.4 L425.8,195.4 L426.3,195.4 L426.8,195.4 L427.3,195.5 L427.8,195.5 L428.3,195.6 L428.8,195.6 L429.3,195.7 L429.8,195.8 L430.3,195.8 L430.8,195.9 L431.3,196.0 L431.8,196.1 L432.3,196.3 L432.8,196.5 L433.3,196.7 L433.8,197.0 L434.3,197.1 L434.8,197.3 L435.3,197.3 L435.8,197.2 L436.3,197.1 L436.8,196.9 L437.3,196.6 L437.8,196.4 L438.3,196.2 L438.8,196.0 L439.3,196.0 L439.8,195.9 L440.3,195.9 L440.8,195.8 L441.3,195.8 L441.8,195.8 L442.3,195.8 L442.8,195.8 L443.3,195.8 L443.8,195.9 L444.3,195.9 L444.8,196.0 L445.3,196.1 L445.8,196.2 L446.3,196.3 L446.8,196.4 L447.3,196.5 L447.8,196.6 L448.3,196.7 L448.8,196.7 L449.3,196.8 L449.8,196.8 L450.3,196.8 L450.8,196.8 L451.3,196.8 L451.8,196.8 L452.3,196.8 L452.8,196.7 L453.3,196.7 L453.8,196.7 L454.3,196.6 L454.8,196.6 L455.3,196.5 L455.8,196.4 L456.3,196.4 L456.8,196.3 L457.3,196.2 L457.8,196.1 L458.3,196.0 L458.8,196.0 L459.3,195.9 L459.8,195.8 L460.3,195.7 L460.8,195.6 L461.3,195.4" stroke="#0b58b4" stroke-width="2.9"/>
</g>
<g>
<path d="M139.0,302.4 L139.5,302.3 L140.0,302.2 L140.5,302.1 L141.0,302.0 L141.5,301.9 L142.0,301.9 L142.5,302.0 L143.0,302.0 L143.5,302.1 L144.0,302.1 L144.5,302.2 L145.0,302.2 L145.5,302.2 L146.0,302.2 L146.5,302.1 L147.0,302.0 L147.5,301.9 L148.0,301.8 L148.5,301.7 L149.0,301.5 L149.5,301.2 L150.0,301.0 L150.5,300.6 L151.0,300.2 L151.5,299.8 L152.0,299.2 L152.5,298.5 L153.0,297.7 L153.5,296.8 L154.0,295.9 L154.5,295.0 L155.0,294.2 L155.5,293.3 L156.0,292.4 L156.5,291.5 L157.0,290.6 L157.5,289.7 L158.0,288.7 L158.5,287.8 L159.0,286.8 L159.5,286.1 L160.0,285.5 L160.5,285.0 L161.0,284.5 L161.5,284.0 L162.0,283.5 L162.5,283.1 L163.0,282.7 L163.5,282.4 L164.0,282.1 L164.5,281.8 L165.0,281.6 L165.5,281.4 L166.0,281.3 L166.5,281.2 L167.0,281.2 L167.5,281.2 L168.0,281.4 L168.5,281.5 L169.0,281.8 L169.5,282.1 L170.0,282.5 L170.5,283.0 L171.0,283.5 L171.5,284.1 L172.0,284.7 L172.5,285.3 L173.0,286.0 L173.5,286.7 L174.0,287.5 L174.5,288.2 L175.0,289.0 L175.5,289.8 L176.0,290.6 L176.5,291.3 L177.0,292.1 L177.5,292.8 L178.0,293.6 L178.5,294.3 L179.0,295.0 L179.5,295.6 L180.0,296.2 L180.5,296.8 L181.0,297.4 L181.5,297.9 L182.0,298.4 L182.5,298.9 L183.0,299.3 L183.5,299.7 L184.0,300.0 L184.5,300.4 L185.0,300.7 L185.5,301.0 L186.0,301.2 L186.5,301.4 L187.0,301.6 L187.5,301.8 L188.0,302.0 L188.5,302.1 L189.0,302.2 L189.5,302.3 L190.0,302.4 L190.0,302.4 L139.0,302.4 Z" fill="rgba(255,35,35,0.245)" stroke="rgba(255,35,35,0.245)" stroke-width="0.7"/>
<path d="M143.0,302.4 L143.5,302.3 L144.0,302.3 L144.5,302.3 L145.0,302.3 L145.5,302.2 L146.0,302.2 L146.5,302.1 L147.0,302.1 L147.5,302.0 L148.0,302.0 L148.5,301.9 L149.0,301.9 L149.5,301.8 L150.0,301.7 L150.5,301.6 L151.0,301.5 L151.5,301.4 L152.0,301.3 L152.5,301.2 L153.0,301.1 L153.5,300.9 L154.0,300.8 L154.5,300.6 L155.0,300.4 L155.5,300.2 L156.0,300.0 L156.5,299.8 L157.0,299.6 L157.5,299.3 L158.0,299.1 L158.5,298.8 L159.0,298.5 L159.5,298.1 L160.0,297.8 L160.5,297.4 L161.0,297.1 L161.5,296.6 L162.0,296.2 L162.5,295.8 L163.0,295.3 L163.5,294.8 L164.0,294.3 L164.5,293.7 L165.0,293.1 L165.5,292.5 L166.0,291.9 L166.5,291.3 L167.0,290.6 L167.5,289.9 L168.0,289.2 L168.5,288.4 L169.0,287.6 L169.5,286.9 L170.0,286.0 L170.5,285.2 L171.0,284.3 L171.5,283.5 L172.0,282.6 L172.5,281.7 L173.0,280.7 L173.5,279.8 L174.0,278.8 L174.5,277.9 L175.0,276.9 L175.5,275.9 L176.0,275.0 L176.5,274.0 L177.0,273.0 L177.5,272.0 L178.0,271.1 L178.5,270.1 L179.0,269.2 L179.5,268.2 L180.0,267.3 L180.5,266.4 L181.0,265.5 L181.5,264.7 L182.0,263.9 L182.5,263.1 L183.0,262.3 L183.5,261.6 L184.0,260.9 L184.5,260.3 L185.0,259.7 L185.5,259.3 L186.0,258.8 L186.5,258.4 L187.0,258.0 L187.5,257.6 L188.0,257.3 L188.5,256.9 L189.0,256.7 L189.5,256.5 L190.0,256.4 L190.5,256.4 L191.0,256.4 L191.5,256.5 L192.0,256.6 L192.5,256.7 L193.0,256.9 L193.5,257.1 L194.0,257.3 L194.5,257.6 L195.0,257.9 L195.5,258.2 L196.0,258.6 L196.5,259.0 L197.0,259.5 L197.5,259.9 L198.0,260.4 L198.5,261.0 L199.0,261.5 L199.5,262.1 L200.0,262.7 L200.5,263.4 L201.0,264.4 L201.5,265.4 L202.0,266.4 L202.5,267.5 L203.0,268.4 L203.5,269.4 L204.0,270.3 L204.5,271.2 L205.0,272.1 L205.5,273.0 L206.0,273.8 L206.5,274.7 L207.0,275.5 L207.5,276.2 L208.0,276.9 L208.5,277.4 L209.0,277.8 L209.5,278.1 L210.0,278.4 L210.5,278.7 L211.0,279.5 L211.5,280.3 L212.0,281.1 L212.5,281.8 L213.0,282.6 L213.5,283.4 L214.0,284.1 L214.5,284.9 L215.0,285.6 L215.5,286.3 L216.0,287.0 L216.5,287.7 L217.0,288.4 L217.5,289.0 L218.0,289.7 L218.5,290.3 L219.0,290.9 L219.5,291.5 L220.0,292.1 L220.5,292.6 L221.0,293.2 L221.5,293.7 L222.0,294.2 L222.5,294.7 L223.0,295.2 L223.5,295.6 L224.0,296.1 L224.5,296.5 L225.0,296.9 L225.5,297.3 L226.0,297.7 L226.5,298.0 L227.0,298.4 L227.5,298.7 L228.0,299.1 L228.5,299.4 L229.0,299.6 L229.5,299.9 L230.0,300.2 L230.5,300.4 L231.0,300.7 L231.5,300.9 L232.0,301.1 L232.5,301.3 L233.0,301.5 L233.5,301.7 L234.0,301.9 L234.5,302.1 L235.0,302.2 L235.5,302.4 L235.5,302.4 L143.0,302.4 Z" fill="rgba(30,240,30,0.235)" stroke="rgba(30,240,30,0.235)" stroke-width="0.7"/>
<path d="M199.5,302.4 L200.0,302.3 L200.5,302.1 L201.0,301.8 L201.5,301.5 L202.0,301.2 L202.5,300.9 L203.0,300.6 L203.5,300.2 L204.0,299.7 L204.5,299.2 L205.0,298.7 L205.5,298.1 L206.0,297.5 L206.5,296.8 L207.0,296.1 L207.5,295.3 L208.0,294.4 L208.5,293.5 L209.0,292.5 L209.5,291.4 L210.0,290.3 L210.5,289.0 L211.0,287.7 L211.5,286.4 L212.0,284.9 L212.5,283.3 L213.0,281.7 L213.5,280.0 L214.0,278.2 L214.5,276.3 L215.0,274.4 L215.5,272.3 L216.0,270.2 L216.5,268.0 L217.0,265.8 L217.5,263.4 L218.0,261.1 L218.5,258.6 L219.0,256.1 L219.5,253.6 L220.0,251.1 L220.5,248.5 L221.0,245.9 L221.5,243.3 L222.0,241.2 L222.5,239.1 L223.0,237.1 L223.5,235.1 L224.0,233.2 L224.5,231.4 L225.0,229.6 L225.5,227.9 L226.0,226.3 L226.5,224.7 L227.0,223.1 L227.5,215.9 L228.0,214.2 L228.5,212.7 L229.0,211.3 L229.5,210.1 L230.0,209.1 L230.5,208.2 L231.0,207.6 L231.5,207.1 L232.0,206.7 L232.5,206.6 L233.0,206.7 L233.5,207.0 L234.0,207.5 L234.5,208.3 L235.0,209.3 L235.5,210.5 L236.0,212.0 L236.5,213.6 L237.0,215.4 L237.5,217.4 L238.0,219.6 L238.5,221.9 L239.0,224.3 L239.5,226.9 L240.0,229.5 L240.5,232.2 L241.0,235.0 L241.5,237.9 L242.0,240.8 L242.5,243.7 L243.0,246.6 L243.5,249.5 L244.0,252.4 L244.5,255.3 L245.0,258.1 L245.5,260.9 L246.0,263.5 L246.5,266.2 L247.0,268.7 L247.5,271.1 L248.0,273.5 L248.5,275.7 L249.0,277.9 L249.5,279.9 L250.0,281.8 L250.5,283.7 L251.0,285.4 L251.5,287.0 L252.0,288.5 L252.5,289.9 L253.0,291.2 L253.5,292.5 L254.0,293.6 L254.5,294.6 L255.0,295.6 L255.5,296.5 L256.0,297.3 L256.5,298.0 L257.0,298.6 L257.5,299.2 L258.0,299.8 L258.5,300.3 L259.0,300.7 L259.5,301.1 L260.0,301.4 L260.5,301.8 L261.0,302.0 L261.5,302.3 L262.0,302.4 L262.0,302.4 L199.5,302.4 Z" fill="rgba(40,40,255,0.22)" stroke="rgba(40,40,255,0.22)" stroke-width="0.7"/>
<path d="M300.0,302.4 L300.5,302.0 L301.0,302.0 L301.5,302.0 L302.0,302.0 L302.5,302.0 L303.0,302.0 L303.5,302.0 L304.0,302.0 L304.5,302.0 L305.0,302.0 L305.5,302.0 L306.0,302.0 L306.5,302.1 L307.0,302.1 L307.5,302.1 L308.0,302.1 L308.5,302.1 L309.0,302.1 L309.5,302.1 L310.0,302.1 L310.5,302.1 L311.0,302.1 L311.5,302.1 L312.0,302.1 L312.5,302.1 L313.0,302.1 L313.5,302.2 L314.0,302.2 L314.5,302.2 L315.0,302.2 L315.5,302.2 L316.0,302.2 L316.5,302.2 L317.0,302.1 L317.5,302.0 L318.0,301.8 L318.5,301.7 L319.0,301.5 L319.5,301.3 L320.0,301.0 L320.5,300.6 L321.0,300.2 L321.5,299.8 L322.0,299.3 L322.5,298.8 L323.0,298.2 L323.5,297.5 L324.0,296.7 L324.5,295.8 L325.0,294.7 L325.5,293.6 L326.0,292.3 L326.5,290.8 L327.0,289.2 L327.5,287.6 L328.0,285.9 L328.5,284.1 L329.0,282.3 L329.5,280.5 L330.0,278.6 L330.5,276.6 L331.0,274.6 L331.5,272.6 L332.0,270.6 L332.5,268.6 L333.0,266.6 L333.5,264.6 L334.0,262.7 L334.5,260.8 L335.0,259.0 L335.5,257.2 L336.0,255.5 L336.5,253.8 L337.0,252.1 L337.5,250.4 L338.0,248.7 L338.5,247.0 L339.0,245.4 L339.5,243.9 L340.0,242.3 L340.5,240.9 L341.0,239.4 L341.5,238.0 L342.0,236.8 L342.5,235.6 L343.0,234.7 L343.5,233.8 L344.0,233.1 L344.5,232.5 L345.0,231.9 L345.5,231.5 L346.0,231.1 L346.5,230.9 L347.0,231.0 L347.5,231.2 L348.0,231.6 L348.5,232.1 L349.0,232.8 L349.5,233.6 L350.0,234.5 L350.5,235.6 L351.0,236.8 L351.5,238.1 L352.0,239.5 L352.5,241.1 L353.0,242.7 L353.5,244.4 L354.0,246.1 L354.5,248.0 L355.0,249.9 L355.5,251.8 L356.0,253.7 L356.5,255.7 L357.0,257.7 L357.5,259.8 L358.0,261.8 L358.5,263.8 L359.0,265.7 L359.5,267.7 L360.0,269.6 L360.5,271.5 L361.0,273.4 L361.5,275.2 L362.0,276.9 L362.5,278.6 L363.0,280.2 L363.5,281.8 L364.0,283.3 L364.5,284.7 L365.0,286.1 L365.5,287.4 L366.0,288.6 L366.5,289.8 L367.0,290.9 L367.5,291.9 L368.0,292.9 L368.5,293.8 L369.0,294.6 L369.5,295.4 L370.0,296.1 L370.5,296.8 L371.0,297.4 L371.5,298.0 L372.0,298.5 L372.5,299.0 L373.0,299.4 L373.5,299.8 L374.0,300.2 L374.5,300.5 L375.0,300.8 L375.5,301.1 L376.0,301.3 L376.5,301.6 L377.0,301.8 L377.5,301.9 L378.0,302.1 L378.5,302.2 L379.0,302.4 L379.0,302.4 L300.0,302.4 Z" fill="rgba(0,245,245,0.225)" stroke="rgba(0,245,245,0.225)" stroke-width="0.7"/>
<path d="M343.5,302.4 L344.0,302.2 L344.5,302.0 L345.0,301.7 L345.5,301.4 L346.0,301.1 L346.5,300.7 L347.0,300.3 L347.5,299.8 L348.0,299.3 L348.5,298.8 L349.0,298.2 L349.5,297.6 L350.0,296.9 L350.5,296.2 L351.0,295.4 L351.5,294.6 L352.0,293.7 L352.5,292.8 L353.0,291.8 L353.5,290.7 L354.0,289.6 L354.5,288.5 L355.0,287.3 L355.5,286.1 L356.0,284.8 L356.5,283.5 L357.0,282.1 L357.5,280.7 L358.0,279.3 L358.5,277.9 L359.0,276.5 L359.5,275.1 L360.0,273.6 L360.5,272.2 L361.0,270.8 L361.5,269.5 L362.0,268.1 L362.5,266.8 L363.0,265.6 L363.5,264.4 L364.0,263.4 L364.5,262.3 L365.0,261.4 L365.5,260.6 L366.0,259.8 L366.5,259.2 L367.0,258.7 L367.5,258.2 L368.0,257.9 L368.5,257.8 L369.0,257.7 L369.5,257.8 L370.0,258.0 L370.5,258.3 L371.0,258.7 L371.5,259.3 L372.0,260.0 L372.5,260.7 L373.0,261.6 L373.5,262.6 L374.0,263.7 L374.5,264.8 L375.0,266.1 L375.5,267.4 L376.0,268.7 L376.5,270.1 L377.0,271.5 L377.5,273.0 L378.0,274.4 L378.5,275.9 L379.0,277.4 L379.5,278.9 L380.0,280.3 L380.5,281.7 L381.0,283.1 L381.5,284.5 L382.0,285.8 L382.5,287.1 L383.0,288.4 L383.5,290.0 L384.0,291.4 L384.5,292.7 L385.0,293.9 L385.5,295.0 L386.0,296.0 L386.5,297.0 L387.0,297.9 L387.5,298.7 L388.0,299.3 L388.5,299.9 L389.0,300.4 L389.5,300.7 L390.0,301.0 L390.5,301.2 L391.0,301.4 L391.5,301.6 L392.0,301.7 L392.5,301.8 L393.0,302.1 L393.5,302.3 L394.0,302.4 L394.0,302.4 L343.5,302.4 Z" fill="rgba(255,30,225,0.26)" stroke="rgba(255,30,225,0.26)" stroke-width="0.7"/>
</g>
<rect x="60.0" y="16.5" width="466.70" height="375.70" fill="none" stroke="#000" stroke-width="1.55"/>
<g stroke="#000" stroke-width="1.55" stroke-linecap="butt">
<line x1="60.00" y1="392.20" x2="60.00" y2="398.80"/>
<line x1="93.34" y1="392.20" x2="93.34" y2="395.80"/>
<line x1="126.67" y1="392.20" x2="126.67" y2="398.80"/>
<line x1="160.00" y1="392.20" x2="160.00" y2="395.80"/>
<line x1="193.34" y1="392.20" x2="193.34" y2="398.80"/>
<line x1="226.67" y1="392.20" x2="226.67" y2="395.80"/>
<line x1="260.01" y1="392.20" x2="260.01" y2="398.80"/>
<line x1="293.35" y1="392.20" x2="293.35" y2="395.80"/>
<line x1="326.68" y1="392.20" x2="326.68" y2="398.80"/>
<line x1="360.01" y1="392.20" x2="360.01" y2="395.80"/>
<line x1="393.35" y1="392.20" x2="393.35" y2="398.80"/>
<line x1="426.69" y1="392.20" x2="426.69" y2="395.80"/>
<line x1="460.02" y1="392.20" x2="460.02" y2="398.80"/>
<line x1="493.35" y1="392.20" x2="493.35" y2="395.80"/>
<line x1="526.69" y1="392.20" x2="526.69" y2="398.80"/>
</g>
<g font-family="'Liberation Sans', sans-serif" fill="#000" stroke="#000" stroke-width="0.3">
<g font-size="15.35" text-anchor="middle">
<text x="60.00" y="417.1">0</text>
<text x="126.67" y="417.1">100</text>
<text x="193.34" y="417.1">200</text>
<text x="260.01" y="417.1">300</text>
<text x="326.68" y="417.1">400</text>
<text x="393.35" y="417.1">500</text>
<text x="460.02" y="417.1">600</text>
<text x="526.69" y="417.1">700</text>
</g>
<g font-size="19.55">
<text x="148.2" y="33.6">weak sites</text>
<text x="271.1" y="33.6">medium sites</text>
<text x="413.9" y="33.6">strong sites</text>
</g>
<g font-size="19.4">
<text x="221.6" y="449.4" font-size="19.25">temperature (<tspan font-size="14.2" dy="-7.2">o</tspan><tspan dy="7.2">C)</tspan></text>
<text font-size="19.4" transform="translate(30.1,273.3) rotate(-90)">intensity (a.u. g<tspan font-size="14.4" dy="-7">−1</tspan><tspan dy="7">)</tspan></text>
<text x="373.8" y="180.5" fill="#1767b0" stroke="#1767b0">MCM-41-SO<tspan font-size="14.2" dy="5.8">3</tspan><tspan dy="-5.8">H-1</tspan></text>
<text x="371.1" y="294.1" fill="#43abf6" stroke="#43abf6">MCM-41-SO<tspan font-size="14.2" dy="5.8">3</tspan><tspan dy="-5.8">H-2</tspan></text>
<text x="403.2" y="354.5" fill="#12c886" stroke="#12c886">MCM-41</text>
</g>
</g>
</svg>
</body></html>
